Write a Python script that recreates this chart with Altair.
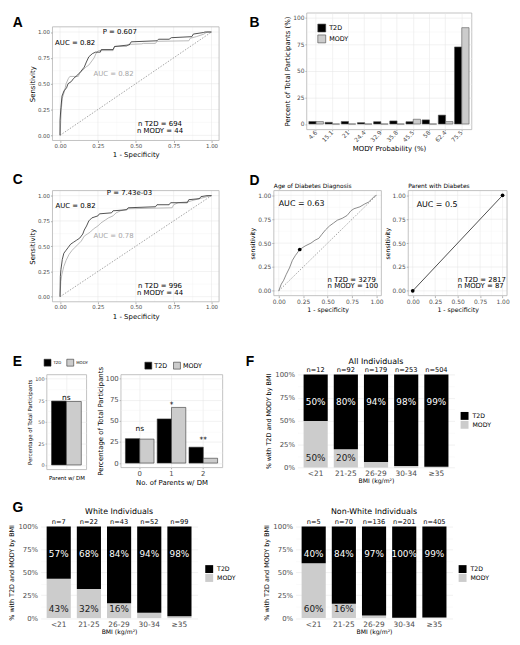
import altair as alt
import pandas as pd

FONT = "DejaVu Sans"
TICK = "#4d4d4d"
BORDER = "#b3b3b3"
GRID = "#e5e5e5"
MINOR = "#f1f1f1"
LIGHT = "#cccccc"
DARK_LINE = "#262626"
LIGHT_LINE = "#a8a8a8"
GROUPS = ["T2D", "MODY"]
TICKS = [0, 0.25, 0.5, 0.75, 1]
MINOR_TICKS = [0.125, 0.375, 0.625, 0.875]
FRAC_TICKS = [0, 0.125, 0.25, 0.375, 0.5, 0.625, 0.75, 0.875, 1]
PCT_TICKS = [0, 12.5, 25, 37.5, 50, 62.5, 75, 87.5, 100]
ONE = pd.DataFrame({"k": [0]})

# ---------------- data ----------------
# A: ROC curves, first cohort
a_dark_fpr = [0, 0, 0.006, 0.013, 0.026, 0.043, 0.053, 0.074, 0.089, 0.117, 0.138, 0.16, 0.174, 0.19, 0.213,
              0.234, 0.266, 0.272, 0.35, 0.36, 0.457, 0.47, 0.64, 0.65, 0.72, 0.735, 0.87, 0.88, 0.947, 0.957, 1]
a_dark_tpr = [0, 0.145, 0.27, 0.38, 0.43, 0.46, 0.50, 0.52, 0.55, 0.585, 0.62, 0.66, 0.71, 0.76, 0.79,
              0.805, 0.805, 0.83, 0.83, 0.86, 0.875, 0.905, 0.915, 0.93, 0.93, 0.945, 0.955, 0.98, 0.995, 1, 1]
a_light_fpr = [0, 0.004, 0.008, 0.015, 0.03, 0.04, 0.055, 0.065, 0.12, 0.13, 0.15, 0.17, 0.19, 0.21, 0.225,
               0.24, 0.255, 0.35, 0.36, 0.44, 0.45, 0.54, 0.55, 0.63, 0.64, 0.85, 0.86, 0.9, 0.95, 0.97, 1]
a_light_tpr = [0, 0.12, 0.25, 0.36, 0.43, 0.5, 0.55, 0.57, 0.57, 0.6, 0.63, 0.66, 0.68, 0.72, 0.75,
               0.8, 0.82, 0.82, 0.86, 0.86, 0.88, 0.885, 0.89, 0.89, 0.91, 0.915, 0.94, 0.955, 0.98, 1, 1]
a_p = "P = 0.607"
a_auc = ["AUC = 0.82", "AUC = 0.82"]
a_n = ["n T2D = 694", "n MODY = 44"]

# B: MODY probability distribution
b_bins = ["4.6", "15.1", "21", "24.4", "32.9", "35.8", "45.5", "58", "62.4", "75.5"]
b_t2d = [2.4, 1.6, 2.4, 1.3, 2.2, 2.9, 2.2, 3.9, 8.4, 72.7]
b_mody = [2.3, 0, 0, 0, 0, 0, 4.5, 0, 2.3, 90.9]

# C: ROC curves, second cohort
c_dark_fpr = [0, 0.002, 0.006, 0.015, 0.025, 0.04, 0.055, 0.07, 0.09, 0.11, 0.13, 0.15, 0.16, 0.175, 0.19, 0.21,
              0.25, 0.26, 0.34, 0.35, 0.44, 0.45, 0.63, 0.64, 0.72, 0.73, 0.84, 0.85, 0.92, 0.93, 0.97, 1]
c_dark_tpr = [0, 0.2, 0.27, 0.37, 0.43, 0.46, 0.49, 0.52, 0.54, 0.56, 0.58, 0.62, 0.66, 0.70, 0.75, 0.78,
              0.80, 0.82, 0.83, 0.85, 0.86, 0.88, 0.89, 0.91, 0.91, 0.93, 0.93, 0.96, 0.97, 0.99, 1.0, 1]
c_light_fpr = [0, 0.005, 0.012, 0.025, 0.04, 0.06, 0.08, 0.1, 0.12, 0.14, 0.16, 0.18, 0.2, 0.22, 0.25,
               0.27, 0.3, 0.32, 0.35, 0.37, 0.4, 0.45, 0.74, 0.75, 0.78, 0.85, 0.87, 0.97, 1]
c_light_tpr = [0, 0.15, 0.22, 0.3, 0.36, 0.42, 0.46, 0.49, 0.52, 0.55, 0.6, 0.62, 0.64, 0.67, 0.7,
               0.73, 0.76, 0.78, 0.8, 0.83, 0.85, 0.87, 0.88, 0.91, 0.93, 0.94, 0.95, 0.99, 1]
c_p = "P = 7.43e-03"
c_auc = ["AUC = 0.82", "AUC = 0.78"]
c_n = ["n T2D = 996", "n MODY = 44"]

# D: single-feature ROC curves
d1_fpr = [0, 0.026, 0.05, 0.076, 0.11, 0.14, 0.17, 0.215, 0.27, 0.33, 0.37, 0.41, 0.44, 0.48,
          0.52, 0.56, 0.6, 0.65, 0.7, 0.74, 0.77, 0.8, 0.83, 0.88, 0.92, 0.95, 0.98, 1]
d1_tpr = [0, 0.07, 0.11, 0.17, 0.24, 0.32, 0.37, 0.433, 0.47, 0.5, 0.53, 0.55, 0.59, 0.64,
          0.68, 0.71, 0.74, 0.76, 0.79, 0.84, 0.86, 0.87, 0.88, 0.91, 0.93, 0.96, 0.99, 1]
d1_cut = ([0.215], [0.433])
d1_auc = "AUC = 0.63"
d1_n = ["n T2D = 3279", "n MODY = 100"]
d2_fpr = [0, 1]
d2_tpr = [0, 1]
d2_auc = "AUC = 0.5"
d2_n = ["n T2D = 2817", "n MODY = 87"]

# E: parental diabetes
e1_cats = ["Parent w/ DM"]
e1_t2d = [74.1]
e1_mody = [73.6]
e1_marks = ["ns"]
e1_mark_y = [75.5]
e2_cats = ["0", "1", "2"]
e2_t2d = [28.9, 52.3, 18.8]
e2_mody = [28.4, 65.9, 5.7]
e2_marks = ["ns", "*", "**"]
e2_mark_y = [37.5, 66.5, 24.5]

# F, G: share of MODY by BMI class
bmi_bins = ["<21", "21-25", "26-29", "30-34", "≥35"]
f_mody = [50, 19.6, 6.1, 1.6, 0.8]
f_n = [12, 92, 179, 253, 504]
g1_mody = [42.9, 31.8, 16.3, 5.8, 2.0]
g1_n = [7, 22, 43, 52, 99]
g2_mody = [60, 15.7, 2.9, 0.5, 0.7]
g2_n = [5, 70, 136, 201, 405]


# ---------------- helpers ----------------
def minor_style(test, ticks=True):
    # minor gridlines: lighter, unlabeled, no tick
    s = dict(gridColor={"condition": {"test": test, "value": MINOR}, "value": GRID},
             gridWidth={"condition": {"test": test, "value": 0.4}, "value": 0.55},
             labelExpr=f"({test}) ? '' : datum.label")
    if ticks:
        s["tickOpacity"] = {"condition": {"test": test, "value": 0}, "value": 1}
    return s


def tag_layer(ch, dx, dy):
    return alt.Chart(ONE).mark_text(text=ch, font="Liberation Sans", fontSize=14, fontWeight="bold",
                                    align="left", baseline="alphabetic", color="black").encode(
        x=alt.value(dx), y=alt.value(dy))


def head_layer(txt, x, y, size, align):
    # panel heading drawn as text so it does not move with the panel's other marks
    return alt.Chart(ONE).mark_text(text=txt, fontSize=size, align=align, baseline="bottom",
                                    color="black").encode(x=alt.value(x), y=alt.value(y))


def spacer(w, h=1):
    return alt.Chart(ONE).mark_rule(opacity=0).encode(
        x=alt.value(0), x2=alt.value(w), y=alt.value(0), y2=alt.value(h)).properties(width=w, height=h)


def roc_panel(curves, notes, w, h, extra_top=0, xt="1 - Specificity", yt="Sensitivity", lab=5.5, tit=7,
              dots=None, tag=None, title=None, diag=True):
    xs = alt.Scale(domain=[-0.05, 1.05], nice=False, zero=False)
    ys = alt.Scale(domain=[-0.05, 1.05 + extra_top * 1.1 / h], nice=False, zero=False)
    style = dict(values=TICKS, format=".2f", grid=False, domain=False, tickSize=2, tickColor=BORDER,
                 labelFontSize=lab, labelColor=TICK, labelPadding=1, titleFontSize=tit, titlePadding=2)
    xa = alt.Axis(title=xt, **style)
    if extra_top:
        ya = alt.Axis(title=yt, titleY=extra_top + h / 2, **style)
    else:
        ya = alt.Axis(title=yt, **style)

    def xf(f):
        return alt.X(f, type="quantitative", scale=xs, axis=xa)

    def yf(f):
        return alt.Y(f, type="quantitative", scale=ys, axis=ya)

    def xd(v):
        return alt.XDatum(v, scale=xs, axis=xa)

    def yd(v):
        return alt.YDatum(v, scale=ys, axis=ya)

    layers = []
    for vals, col, sw in ((MINOR_TICKS, MINOR, 0.4), (TICKS, GRID, 0.5)):
        g = pd.DataFrame({"v": vals})
        layers.append(alt.Chart(g).mark_rule(color=col, strokeWidth=sw).encode(
            x=xf("v"), y=yd(-0.05), y2=alt.Y2Datum(1.05)))
        layers.append(alt.Chart(g).mark_rule(color=col, strokeWidth=sw).encode(
            y=yf("v"), x=xd(-0.05), x2=alt.X2Datum(1.05)))
    layers.append(alt.Chart(ONE).mark_rect(fill="transparent", stroke=BORDER, strokeWidth=0.8).encode(
        x=xd(-0.05), x2=alt.X2Datum(1.05), y=yd(-0.05), y2=alt.Y2Datum(1.05)))
    if diag:
        d = pd.DataFrame({"fpr": [0, 1], "tpr": [0, 1]})
        layers.append(alt.Chart(d).mark_line(color="#666666", strokeWidth=0.6, strokeDash=[1.5, 1.5]).encode(
            x=xf("fpr"), y=yf("tpr")))
    for fpr, tpr, col, sw in curves:
        df = pd.DataFrame({"i": range(len(fpr)), "fpr": fpr, "tpr": tpr})
        layers.append(alt.Chart(df).mark_line(color=col, strokeWidth=sw).encode(
            x=xf("fpr"), y=yf("tpr"), order="i:Q"))
    if dots:
        df = pd.DataFrame({"fpr": dots[0], "tpr": dots[1]})
        layers.append(alt.Chart(df).mark_point(filled=True, size=14, color="black", opacity=1).encode(
            x=xf("fpr"), y=yf("tpr")))
    for txt, x, y, size, col, align in notes:
        layers.append(alt.Chart(ONE).mark_text(text=txt, fontSize=size, color=col, align=align,
                                               baseline="middle").encode(x=xd(x), y=yd(y)))
    if title:
        layers.append(head_layer(title, 0, -2, 6, "left"))
    if tag:
        layers.append(tag_layer(*tag))
    return alt.layer(*layers).properties(width=w, height=h + extra_top)


def dodge_panel(cats, t2d, mody, w, h, xt, yt, lab, tit, legend, marks, mark_y, mark_size,
                angle=0, show_labels=True, edge="#333333", tag=None, title_pad=2):
    rows = []
    for c, a, b in zip(cats, t2d, mody):
        rows.append({"cat": c, "group": "T2D", "pct": a})
        rows.append({"cat": c, "group": "MODY", "pct": b})
    df = pd.DataFrame(rows)
    xs = alt.Scale(domain=cats, paddingInner=0.1, paddingOuter=0.15)
    ys = alt.Scale(domain=[-5, 105], nice=False, zero=False)
    xstyle = dict(title=xt, labels=show_labels, ticks=show_labels, labelFontSize=lab, labelColor=TICK,
                  grid=True, gridColor=GRID, gridWidth=0.5, bandPosition=0.5, domain=False, tickSize=1.5,
                  tickColor=BORDER, labelPadding=0.5, titleFontSize=tit, titlePadding=title_pad)
    if angle:
        xstyle.update(labelAngle=angle, labelAlign="right", labelBaseline="middle")
    else:
        xstyle.update(labelAngle=0)
    xa = alt.Axis(**xstyle)
    ya = alt.Axis(title=yt, values=PCT_TICKS, labelFontSize=lab, labelColor=TICK, grid=True,
                  domain=False, tickSize=1.5, tickColor=BORDER, labelPadding=1,
                  titleFontSize=tit, titlePadding=2, **minor_style("datum.value % 25 != 0"))
    bars = alt.Chart(df).mark_bar(stroke=edge, strokeWidth=0.6).encode(
        x=alt.X("cat:N", scale=xs, axis=xa),
        xOffset=alt.XOffset("group:N", scale=alt.Scale(domain=GROUPS, paddingInner=0, paddingOuter=0)),
        y=alt.Y("pct:Q", scale=ys, axis=ya),
        y2=alt.Y2Datum(0),
        color=alt.Color("group:N", scale=alt.Scale(domain=GROUPS, range=["black", LIGHT]), legend=legend))
    layers = [bars]
    if marks:
        mdf = pd.DataFrame({"cat": cats, "y": mark_y, "txt": marks})
        layers.append(alt.Chart(mdf).mark_text(fontSize=mark_size, baseline="alphabetic", color="black").encode(
            x=alt.X("cat:N", scale=xs, axis=xa), y=alt.Y("y:Q", scale=ys, axis=ya), text="txt:N"))
    if tag:
        layers.append(tag_layer(*tag))
    return alt.layer(*layers).properties(width=w, height=h,
                                         view=alt.ViewBackground(stroke=BORDER, strokeWidth=0.8))


def bmi_panel(title, mody, n, w, h, legend_x, legend_y, title_off, n_dy, tag=None):
    brows, lrows = [], []
    for c, m in zip(bmi_bins, mody):
        brows.append({"bin": c, "group": "MODY", "lo": 0, "hi": m / 100})
        brows.append({"bin": c, "group": "T2D", "lo": m / 100, "hi": 1})
        lrows.append({"bin": c, "t2d": f"{round(100 - m)}%", "mody": f"{round(m)}%" if m >= 10 else ""})
    bdf = pd.DataFrame(brows)
    ldf = pd.DataFrame(lrows)
    ndf = pd.DataFrame({"bin": bmi_bins, "n": [f"n={k}" for k in n]})
    xs = alt.Scale(domain=bmi_bins, paddingInner=0.2, paddingOuter=0.2)
    ys = alt.Scale(domain=[0, 1], nice=False)
    xa = alt.Axis(title="BMI (kg/m²)", labelAngle=0, labelFontSize=7.5, labelColor=TICK, ticks=False,
                  domain=False, grid=False, labelPadding=2, titleFontSize=6.2, titlePadding=1)
    ya = alt.Axis(title="% with T2D and MODY by BMI", values=FRAC_TICKS, format=".0%", labelFontSize=7,
                  labelColor=TICK, ticks=False, domain=False, grid=True,
                  labelPadding=3, titleFontSize=6.5, titlePadding=3,
                  **minor_style("(datum.value * 8) % 2 == 1", ticks=False))
    x = alt.X("bin:N", scale=xs, axis=xa)
    leg = alt.Legend(title=None, orient="none", legendX=legend_x, legendY=legend_y, symbolType="square",
                     symbolSize=64, symbolStrokeWidth=0, labelFontSize=6.3, labelColor="black",
                     rowPadding=1, labelOffset=4, padding=0)
    bars = alt.Chart(bdf).mark_bar().encode(
        x=x, y=alt.Y("hi:Q", scale=ys, axis=ya), y2="lo:Q",
        color=alt.Color("group:N", scale=alt.Scale(domain=GROUPS, range=["black", LIGHT]), legend=leg))
    t2d_lab = alt.Chart(ldf).mark_text(fontSize=9, color="white", baseline="middle").encode(
        x=x, y=alt.YDatum(0.70, scale=ys, axis=ya), text="t2d:N")
    mody_lab = alt.Chart(ldf).mark_text(fontSize=9, color="#1a1a1a", baseline="middle").encode(
        x=x, y=alt.YDatum(0.10, scale=ys, axis=ya), text="mody:N")
    n_lab = alt.Chart(ndf).mark_text(fontSize=6.7, color="black", baseline="bottom", dy=n_dy).encode(
        x=x, y=alt.YDatum(1.0, scale=ys, axis=ya), text="n:N")
    layers = [bars, t2d_lab, mody_lab, n_lab, head_layer(title, w / 2, -title_off, 8, "center")]
    if tag:
        layers.append(tag_layer(*tag))
    return alt.layer(*layers).properties(width=w, height=h)


def row(*items):
    return alt.hconcat(*items, spacing=0, bounds="flush").resolve_scale(
        x="independent", y="independent", color="independent", xOffset="independent"
    ).resolve_legend(color="independent")


# ---------------- panels ----------------
panel_a = roc_panel(
    [(a_light_fpr, a_light_tpr, LIGHT_LINE, 0.8), (a_dark_fpr, a_dark_tpr, DARK_LINE, 0.8)],
    [(a_p, 0.394, 1.003, 7, "black", "center"),
     (a_auc[0], 0.10, 0.896, 7, "black", "center"),
     (a_auc[1], 0.353, 0.596, 7, LIGHT_LINE, "center"),
     (a_n[0], 0.66, 0.11, 7, "black", "center"),
     (a_n[1], 0.66, 0.045, 7, "black", "center")],
    w=168.6, h=115, extra_top=14.3, tag=("A", -40.2, 14.6))

leg_b = alt.Legend(title=None, orient="none", legendX=11, legendY=11, symbolType="square", symbolSize=64,
                   symbolStrokeColor="#444444", symbolStrokeWidth=0.6, labelFontSize=6.5, labelColor="black",
                   rowPadding=0, labelOffset=3, padding=0)
panel_b = dodge_panel(b_bins, b_t2d, b_mody, w=167, h=118, xt="MODY Probability (%)",
                      yt="Percent of Total Participants (%)", lab=6, tit=7, legend=leg_b,
                      marks=None, mark_y=None, mark_size=7, angle=315, edge="#555555",
                      tag=("B", -57.7, 14.6))

panel_c = roc_panel(
    [(c_light_fpr, c_light_tpr, LIGHT_LINE, 0.8), (c_dark_fpr, c_dark_tpr, DARK_LINE, 0.8)],
    [(c_p, 0.458, 1.022, 7, "black", "center"),
     (c_auc[0], 0.102, 0.90, 7, "black", "center"),
     (c_auc[1], 0.353, 0.596, 7, LIGHT_LINE, "center"),
     (c_n[0], 0.66, 0.107, 7, "black", "center"),
     (c_n[1], 0.66, 0.038, 7, "black", "center")],
    w=168.6, h=112.5, tag=("C", -40.2, -7.1))

panel_d1 = roc_panel(
    [(d1_fpr, d1_tpr, "#595959", 0.7)],
    [(d1_auc, 0.0, 0.906, 8, "black", "left"),
     (d1_n[0], 0.5, 0.118, 7, "black", "left"),
     (d1_n[1], 0.5, 0.046, 7, "black", "left")],
    w=108.8, h=106.3, xt="1 - specificity", yt="sensitivity", lab=6, tit=6.3, dots=d1_cut,
    tag=("D", -24.5, -6.1), title="Age of Diabetes Diagnosis")

panel_d2 = roc_panel(
    [(d2_fpr, d2_tpr, "black", 0.7)],
    [(d2_auc, 0.044, 0.9, 8, "black", "left"),
     (d2_n[0], 0.5, 0.118, 7, "black", "left"),
     (d2_n[1], 0.5, 0.046, 7, "black", "left")],
    w=100, h=106.3, xt="1 - specificity", yt="sensitivity", lab=6, tit=6.3, dots=(d2_fpr, d2_tpr),
    title="Parent with Diabetes", diag=False)

leg_e1 = alt.Legend(title=None, orient="none", legendX=-3, legendY=-16, direction="horizontal",
                    symbolType="square", symbolSize=49, symbolStrokeColor="#333333", symbolStrokeWidth=0.6,
                    labelFontSize=4, labelColor="black", columnPadding=3, labelOffset=2, padding=0)
panel_e1 = dodge_panel(e1_cats, e1_t2d, e1_mody, w=40.2, h=96, xt="Parent w/ DM",
                       yt="Percentage of Total Participants", lab=5, tit=5.5, legend=leg_e1,
                       marks=e1_marks, mark_y=e1_mark_y, mark_size=7.5, show_labels=False,
                       tag=("E", -34.3, -9), title_pad=6.5)

leg_e2 = alt.Legend(title=None, orient="none", legendX=24, legendY=-13, direction="horizontal",
                    symbolType="square", symbolSize=49, symbolStrokeColor="#333333", symbolStrokeWidth=0.6,
                    labelFontSize=6.5, labelColor="black", columnPadding=4, labelOffset=2, padding=0)
panel_e2 = dodge_panel(e2_cats, e2_t2d, e2_mody, w=102.9, h=94, xt="No. of Parents w/ DM",
                       yt="Percentage of Total Participants", lab=7, tit=7, legend=leg_e2,
                       marks=e2_marks, mark_y=e2_mark_y, mark_size=7.5)

panel_f = bmi_panel("All Individuals", f_mody, f_n, w=158.8, h=94.3, legend_x=165, legend_y=38,
                    title_off=9, n_dy=-1.5, tag=("F", -52.3, -9))
panel_g1 = bmi_panel("White Individuals", g1_mody, g1_n, w=158.8, h=92.6, legend_x=166.6, legend_y=39,
                     title_off=11, n_dy=-2, tag=("G", -28.4, -14.3))
panel_g2 = bmi_panel("Non-White Individuals", g2_mody, g2_n, w=158.8, h=92.6, legend_x=165, legend_y=39,
                     title_off=11, n_dy=-2)

row1 = row(spacer(11.8), panel_a, spacer(87.9), panel_b)
row2 = row(spacer(11.8), panel_c, spacer(54.8), panel_d1, spacer(26.8), panel_d2)
row3 = row(spacer(5.9), panel_e1, spacer(33.6), panel_e2, spacer(75.2), panel_f)
row4 = row(panel_g1, spacer(99), panel_g2)

chart = alt.vconcat(
    row1, spacer(1, 11.5), row2, spacer(1, 32.5), row3, spacer(1, 13), row4, spacing=0
).resolve_scale(
    x="independent", y="independent", color="independent", xOffset="independent"
).resolve_legend(color="independent").properties(
    padding={"left": 0, "top": 0, "right": 2, "bottom": 2}
).configure_view(stroke="transparent").configure_axis(
    labelFont=FONT, titleFont=FONT, titleFontWeight="normal", titleColor="black"
).configure_legend(labelFont=FONT).configure_text(font=FONT)

chart.save("out.html", embed_options={"renderer": "svg", "actions": False})
